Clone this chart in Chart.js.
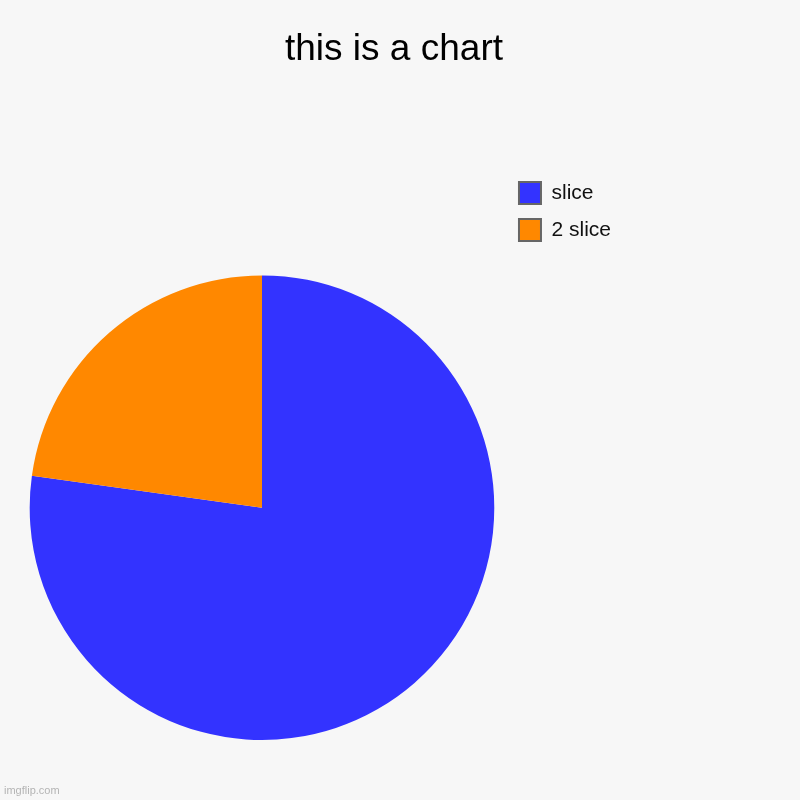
<!DOCTYPE html>
<html>
<head>
<meta charset="utf-8">
<script src="https://cdn.jsdelivr.net/npm/chart.js@4/dist/chart.umd.min.js"></script>
<style>
  html, body { margin: 0; padding: 0; background: #f7f7f7; }
  #wrap { position: relative; width: 800px; height: 800px; }
  #mark { position: absolute; left: 4px; top: 784px; font: 11px "Liberation Sans", Arial, sans-serif; color: #b4b4b4; }
</style>
</head>
<body>
<div id="wrap">
  <canvas id="pieChart" width="800" height="800"></canvas>
  <div id="mark">imgflip.com</div>
</div>
<script>
const chartTitle = "this is a chart";
const labels = ["slice", "2 slice"];
const values = [77.2, 22.8];
const colors = ["#3333ff", "#ff8800"];

const font = "'Liberation Sans', Arial, sans-serif";

new Chart(document.getElementById("pieChart"), {
  type: "pie",
  data: {
    labels: labels,
    datasets: [
      {
        data: values,
        backgroundColor: colors,
        borderWidth: 0,
      },
    ],
  },
  options: {
    responsive: false,
    animation: false,
    layout: {
      padding: { left: 20, right: 32, top: 0, bottom: 60 },
    },
    plugins: {
      title: {
        display: true,
        text: chartTitle,
        color: "#000",
        font: { family: font, size: 37, weight: "normal" },
        padding: { top: 28, bottom: 203 },
      },
      // empty subtitle on the right just reserves space, pushing the pie left of centre
      subtitle: {
        display: true,
        position: "right",
        text: "",
        font: { size: 10 },
        padding: { top: 0, bottom: 135 },
      },
      legend: {
        position: "right",
        align: "start",
        fullSize: true,
        // empty title used as a spacer so the items sit up near the top
        title: { display: true, text: "", font: { size: 10 }, padding: { top: 155, bottom: 0 } },
        labels: {
          boxWidth: 22,
          boxHeight: 22,
          padding: 15,
          color: "#111",
          font: { family: font, size: 21 },
          generateLabels: (chart) =>
            Chart.overrides.pie.plugins.legend.labels.generateLabels(chart).map((item) => ({
              ...item,
              strokeStyle: "#666",
              lineWidth: 2,
            })),
        },
      },
      tooltip: { enabled: false },
    },
  },
});
</script>
</body>
</html>
